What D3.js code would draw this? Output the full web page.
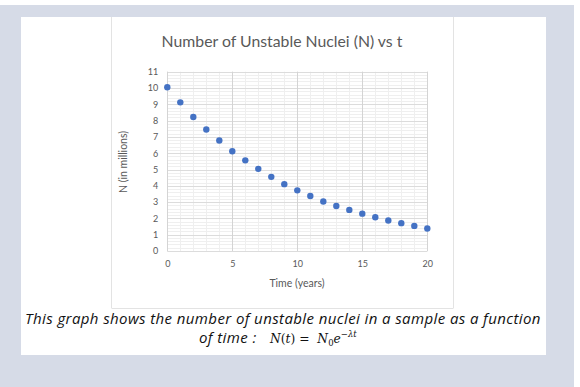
<!DOCTYPE html>
<html><head><meta charset="utf-8">
<script src="https://cdn.jsdelivr.net/npm/d3@7"></script>
<style>
html,body{margin:0;padding:0;background:#fff;}
svg{display:block;}
</style></head>
<body>
<script>
const years = [0,1,2,3,4,5,6,7,8,9,10,11,12,13,14,15,16,17,18,19,20];
const nuclei = [10.05,9.12,8.22,7.45,6.78,6.12,5.56,5.04,4.55,4.1,3.72,3.37,3.04,2.76,2.52,2.29,2.07,1.87,1.71,1.54,1.38];
const xTicks = [0,5,10,15,20];
const yTicks = [0,1,2,3,4,5,6,7,8,9,10,11];
const chartTitle = "Number of Unstable Nuclei (N) vs t";
const xTitle = "Time (years)";
const yTitle = "N (in millions)";

const W = 580, H = 387;
const svg = d3.select("body").append("svg").attr("width", W).attr("height", H);

svg.append("rect").attr("x",0).attr("y",5).attr("width",574).attr("height",H-5).attr("fill","#d6dbe7");
svg.append("rect").attr("x",21).attr("y",17).attr("width",525).attr("height",338).attr("fill","#ffffff");
svg.append("line").attr("x1",111.5).attr("x2",111.5).attr("y1",17).attr("y2",308).attr("stroke","#e3e3e3");
svg.append("line").attr("x1",453.5).attr("x2",453.5).attr("y1",17).attr("y2",308).attr("stroke","#e3e3e3");
svg.append("line").attr("x1",111.5).attr("x2",453.5).attr("y1",308.5).attr("y2",308.5).attr("stroke","#e3e3e3");

const x = d3.scaleLinear().domain([0,20]).range([167.3,427.3]);
const y = d3.scaleLinear().domain([0,11]).range([251,71.7]);

const g = svg.append("g");
const minorY = d3.range(0,11.001,0.2);
g.selectAll(".mh").data(minorY).enter().append("line")
  .attr("x1",x(0)).attr("x2",x(20))
  .attr("y1",d=>Math.round(y(d))+0.5).attr("y2",d=>Math.round(y(d))+0.5)
  .attr("stroke","#efefef").attr("stroke-width",1);
g.selectAll(".mv").data(d3.range(0,21,1)).enter().append("line")
  .attr("x1",d=>Math.round(x(d))+0.5).attr("x2",d=>Math.round(x(d))+0.5)
  .attr("y1",y(11)).attr("y2",y(0))
  .attr("stroke","#efefef").attr("stroke-width",1);
g.selectAll(".Mh").data(yTicks).enter().append("line")
  .attr("x1",x(0)).attr("x2",x(20))
  .attr("y1",d=>Math.round(y(d))+0.5).attr("y2",d=>Math.round(y(d))+0.5)
  .attr("stroke","#dcdcdc").attr("stroke-width",1);
g.selectAll(".Mv").data(xTicks).enter().append("line")
  .attr("x1",d=>Math.round(x(d))+0.5).attr("x2",d=>Math.round(x(d))+0.5)
  .attr("y1",y(11)).attr("y2",y(0))
  .attr("stroke","#d4d4d4").attr("stroke-width",1);

const yAxis = svg.append("g").attr("transform",`translate(${x(0)},0)`)
  .call(d3.axisLeft(y).tickValues(yTicks).tickSize(0).tickPadding(9));
const xAxis = svg.append("g").attr("transform",`translate(0,${y(0)})`)
  .call(d3.axisBottom(x).tickValues(xTicks).tickSize(0).tickPadding(10));
[yAxis,xAxis].forEach(a=>{
  a.select(".domain").remove();
  a.selectAll("text").attr("fill","#595959").style("font-family","Lato, 'Open Sans', sans-serif").style("font-size","9px");
});

svg.append("g").selectAll("circle").data(years).enter().append("circle")
  .attr("cx",(d,i)=>x(d)).attr("cy",(d,i)=>y(nuclei[i])).attr("r",3.2)
  .attr("fill","#4472c4");

svg.append("text").attr("x",282).attr("y",47).attr("text-anchor","middle")
  .attr("fill","#595959").style("font-family","Lato, 'Open Sans', sans-serif").style("font-size","15.8px")
  .text(chartTitle);
svg.append("text").attr("x",297).attr("y",287).attr("text-anchor","middle")
  .attr("fill","#595959").style("font-family","Lato, 'Open Sans', sans-serif").style("font-size","10.5px")
  .text(xTitle);
svg.append("text").attr("transform","translate(127,162) rotate(-90)").attr("text-anchor","middle")
  .attr("fill","#595959").style("font-family","Lato, 'Open Sans', sans-serif").style("font-size","10.5px")
  .text(yTitle);

svg.append("text").attr("x",283).attr("y",324).attr("text-anchor","middle")
  .attr("fill","#111").style("font-family","'Open Sans', sans-serif").style("font-style","italic").style("font-size","15px")
  .style("letter-spacing","0.4px")
  .text("This graph shows the number of unstable nuclei in a sample as a function");
const cap2 = svg.append("text").attr("x",199).attr("y",343).attr("fill","#111")
  .style("font-size","15px");
const serif = "'DejaVu Serif', serif";
const ms = "12.3px", ss = "8.5px";
cap2.append("tspan").style("font-family","'Open Sans', sans-serif").style("font-style","italic").style("letter-spacing","0.4px").text("of time :");
cap2.append("tspan").attr("x",270).style("font-family",serif).style("font-style","italic").style("font-size",ms).text("N");
cap2.append("tspan").style("font-family",serif).style("font-size",ms).text("(");
cap2.append("tspan").style("font-family",serif).style("font-style","italic").style("font-size",ms).text("t");
cap2.append("tspan").style("font-family",serif).style("font-size",ms).text(") =\u00a0\u00a0");
cap2.append("tspan").style("font-family",serif).style("font-style","italic").style("font-size",ms).text("N");
cap2.append("tspan").attr("dy",3).style("font-family",serif).style("font-size",ss).text("0");
cap2.append("tspan").attr("dy",-3).style("font-family",serif).style("font-style","italic").style("font-size",ms).text("e");
cap2.append("tspan").attr("dy",-6).style("font-family",serif).style("font-style","italic").style("font-size",ss).text("−λt");
</script>
</body></html>
